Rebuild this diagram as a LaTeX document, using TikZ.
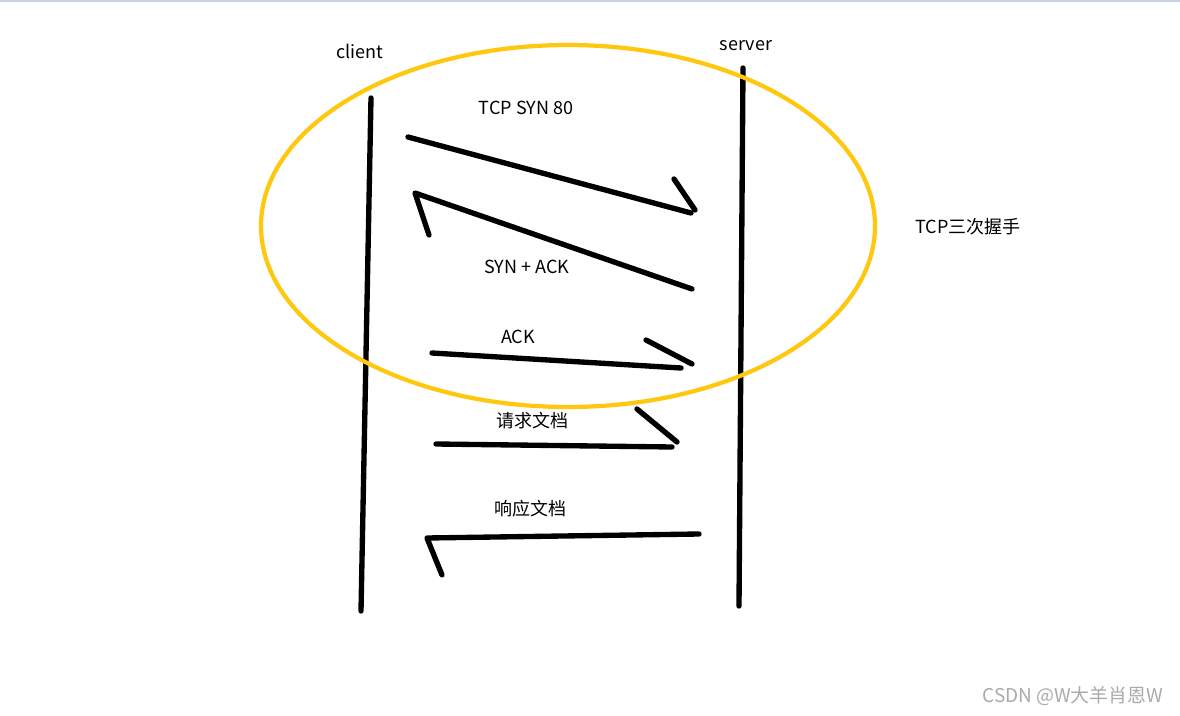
\documentclass[tikz,border=0pt]{standalone}
\usepackage{fontspec}
\setmainfont{Noto Sans CJK SC}
\definecolor{handshake}{RGB}{255,199,14}
\definecolor{topbar}{RGB}{200,210,225}
\definecolor{wmgray}{RGB}{170,170,170}
\begin{document}
\begin{tikzpicture}[x=0.025cm,y=-0.025cm,
  stroke/.style={line width=3.8pt,line cap=round,line join=round},
  every node/.style={inner sep=0pt,font=\fontsize{12.8}{15}\selectfont}]
\useasboundingbox (0,0) rectangle (1180,716);
\draw[topbar,line width=1.4pt] (0,1) -- (1180,1);

% labels
\node (client) at (360,51) {client};
\node (server) at (746,46) {server};
\node (syn) at (526,108) {TCP SYN 80};
\node (synack) at (527,267) {SYN + ACK};
\node (ack) at (518,337) {ACK};
\node (req) at (532,421) {请求文档};
\node (resp) at (530,509) {响应文档};
\node (hs) at (968,227) {TCP三次握手};
\node[wmgray,font=\fontsize{13.5}{15}\selectfont] (wm) at (1073,696) {CSDN @W大羊肖恩W};

% lifelines
\coordinate (c1) at (371,98);
\coordinate (c2) at (361,611);
\coordinate (s1) at (743,68);
\coordinate (s2) at (739,606);
\draw[stroke] (c1) -- (c2);
\draw[stroke] (s1) -- (s2);

% handshake ring
\draw[handshake,line width=3pt] (568,226) ellipse [x radius=307, y radius=181];

% messages
\coordinate (a1) at (408,137);
\coordinate (a2) at (691,213);
\coordinate (a3) at (674,179);
\draw[stroke] (a1) -- (a2);
\draw[stroke] (695,210) -- (a3);

\coordinate (b1) at (692,289);
\coordinate (b2) at (415,193);
\coordinate (b3) at (429,235);
\draw[stroke] (b1) -- (b2) -- (b3);

\coordinate (d1) at (432,353);
\coordinate (d2) at (681,368);
\coordinate (d3) at (646,340);
\coordinate (d4) at (692,364);
\draw[stroke] (d1) -- (d2);
\draw[stroke] (d3) -- (d4);

\coordinate (e1) at (436,444);
\coordinate (e2) at (672,447);
\coordinate (e3) at (637,409);
\coordinate (e4) at (677,442);
\draw[stroke] (e1) -- (e2);
\draw[stroke] (e3) -- (e4);

\coordinate (f1) at (699,534);
\coordinate (f2) at (427,538);
\coordinate (f3) at (442,575);
\draw[stroke] (f1) -- (f2) -- (f3);
\end{tikzpicture}
\end{document}
